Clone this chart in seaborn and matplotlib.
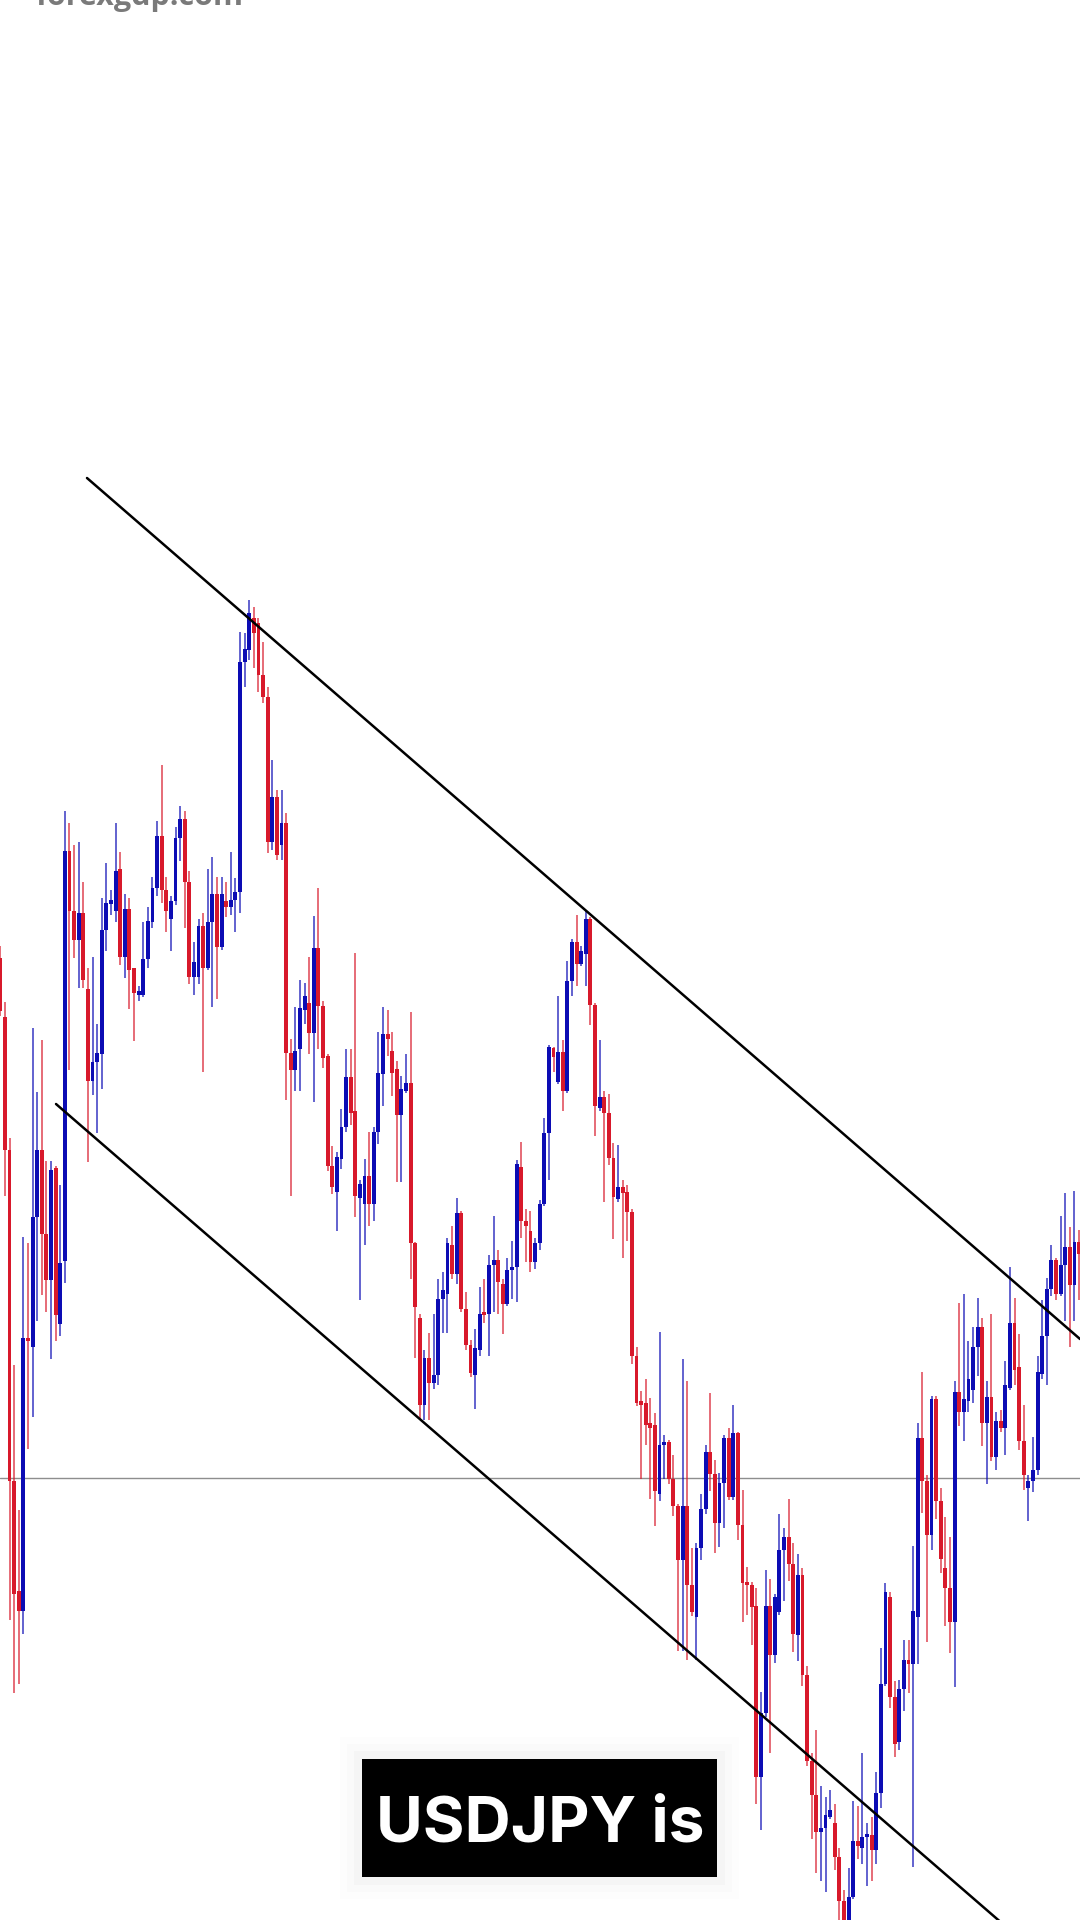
import numpy as np
import pandas as pd
import matplotlib
matplotlib.use("Agg")
import matplotlib.pyplot as plt
import seaborn as sns
from matplotlib.patches import Rectangle

# ---- OHLC values (arbitrary price units, 1 unit = 1 px) ----
open_ = [1042, 983, 850, 519, 409, 389, 662, 653, 783, 850, 766, 720, 832, 676, 739, 1149, 1089, 1060, 1087, 1011,
         919, 938, 946, 1070, 1096, 1089, 1131, 1043, 1091, 1032, 1005, 1005, 1041, 1078, 1112, 1164, 1110, 1081, 1099, 1162,
         1181, 1118, 1023, 1023, 1074, 1032, 1078, 1106, 1053, 1099, 1093, 1100, 1108, 1338, 1350, 1382, 1377, 1325, 1303, 1158,
         1203, 1155, 1177, 947, 930, 951, 990, 997, 967, 1052, 994, 944, 834, 808, 841, 873, 923, 889, 802, 796,
         824, 796, 868, 926, 966, 949, 931, 885, 909, 917, 757, 682, 595, 642, 617, 625, 701, 706, 755, 726,
         787, 691, 655, 625, 650, 688, 686, 735, 740, 716, 696, 730, 733, 833, 779, 769, 738, 757, 796, 867,
         952, 918, 948, 909, 1019, 1058, 1036, 1046, 1081, 995, 892, 903, 887, 842, 801, 813, 808, 788, 644, 599,
         597, 577, 575, 506, 555, 558, 521, 494, 440, 494, 415, 383, 452, 491, 548, 526, 477, 517, 562, 503,
         567, 475, 417, 415, 394, 223, 287, 394, 345, 388, 450, 463, 436, 365, 425, 325, 239, 205, 168, 172,
         183, 177, 143, 99, 65, 103, 159, 152, 163, 165, 150, 207, 316, 403, 303, 258, 311, 340, 336, 383,
         562, 519, 465, 601, 499, 432, 412, 378, 608, 588, 599, 610, 653, 673, 577, 603, 543, 579, 572, 612,
         677, 633, 559, 512, 519, 530, 626, 664, 711, 740, 706, 735, 753, 715, 758]
high = [1054, 998, 862, 635, 490, 763, 757, 972, 908, 960, 839, 839, 834, 815, 1189, 1177, 1155, 1158, 1118, 1032,
        1043, 976, 1102, 1137, 1110, 1177, 1148, 1106, 1102, 1032, 1014, 1078, 1093, 1123, 1179, 1235, 1123, 1104, 1173, 1194,
        1189, 1129, 1058, 1081, 1087, 1131, 1143, 1123, 1123, 1118, 1148, 1122, 1368, 1367, 1400, 1393, 1382, 1358, 1313, 1240,
        1210, 1210, 1187, 961, 993, 1020, 1017, 1043, 1084, 1112, 999, 946, 854, 848, 891, 951, 951, 1047, 820, 841,
        868, 873, 968, 993, 990, 968, 939, 924, 946, 988, 758, 686, 650, 667, 686, 721, 728, 762, 774, 802,
        789, 708, 660, 671, 713, 721, 745, 784, 750, 721, 742, 759, 840, 858, 791, 789, 762, 800, 882, 955,
        953, 1004, 960, 1039, 1061, 1085, 1054, 1090, 1083, 997, 960, 909, 906, 857, 855, 820, 815, 791, 653, 609,
        621, 602, 587, 668, 565, 560, 545, 496, 641, 619, 452, 457, 506, 555, 607, 540, 527, 565, 572, 595,
        568, 510, 433, 418, 412, 308, 430, 421, 406, 486, 472, 501, 457, 446, 432, 334, 247, 270, 214, 203,
        210, 196, 152, 110, 132, 199, 194, 247, 177, 183, 228, 352, 417, 408, 319, 320, 360, 360, 454, 577,
        628, 525, 604, 604, 512, 483, 463, 619, 697, 706, 659, 673, 702, 682, 619, 686, 588, 590, 639, 733,
        702, 666, 595, 525, 563, 644, 700, 722, 755, 742, 784, 807, 773, 809, 770]
low = [984, 804, 380, 307, 316, 366, 551, 583, 679, 705, 688, 641, 659, 664, 717, 930, 1042, 1012, 1012, 838,
       905, 867, 911, 1049, 1085, 1078, 1035, 1022, 991, 959, 999, 1003, 1032, 1072, 1104, 1097, 1068, 1049, 1095, 1139,
       1072, 1016, 1005, 1016, 928, 1030, 993, 1001, 1050, 1083, 1085, 1068, 1087, 1313, 1340, 1332, 1308, 1297, 1147, 1150,
       1140, 1140, 900, 804, 909, 909, 976, 946, 898, 951, 932, 829, 806, 769, 831, 868, 875, 783, 700, 755,
       774, 779, 856, 894, 944, 904, 818, 818, 907, 721, 642, 580, 580, 580, 611, 615, 667, 667, 721, 716,
       688, 650, 623, 591, 644, 677, 644, 688, 686, 666, 694, 701, 698, 762, 738, 728, 731, 750, 794, 820,
       928, 916, 889, 907, 1004, 1014, 1034, 1014, 975, 864, 889, 798, 835, 761, 798, 742, 759, 636, 594, 521,
       555, 501, 474, 499, 521, 516, 484, 349, 349, 340, 384, 340, 440, 486, 509, 447, 453, 472, 500, 500,
       460, 378, 385, 355, 196, 170, 283, 247, 337, 385, 399, 419, 348, 339, 314, 234, 161, 127, 119, 108,
       181, 130, 75, 50, 55, 101, 141, 136, 114, 119, 136, 192, 314, 292, 243, 250, 289, 307, 133, 336,
       487, 358, 450, 481, 427, 374, 347, 313, 574, 559, 588, 597, 624, 554, 516, 539, 530, 568, 545, 610,
       615, 550, 510, 479, 508, 525, 621, 615, 704, 700, 704, 679, 653, 679, 700]
close = [989, 850, 519, 406, 389, 662, 659, 783, 850, 766, 720, 830, 685, 737, 1149, 1089, 1060, 1087, 1020, 919,
         938, 947, 1070, 1097, 1100, 1129, 1043, 1091, 1030, 1007, 1009, 1041, 1079, 1112, 1164, 1110, 1089, 1099, 1162, 1181,
         1118, 1023, 1038, 1074, 1032, 1078, 1106, 1053, 1106, 1093, 1100, 1108, 1338, 1351, 1387, 1367, 1325, 1303, 1158, 1203,
         1145, 1177, 947, 930, 949, 992, 1004, 967, 1052, 994, 942, 834, 813, 843, 873, 923, 887, 804, 816, 824,
         796, 868, 927, 966, 961, 927, 885, 911, 917, 757, 693, 595, 642, 617, 625, 701, 710, 757, 726, 787,
         691, 655, 627, 652, 686, 685, 735, 740, 718, 696, 730, 733, 836, 779, 774, 738, 757, 796, 867, 953,
         943, 948, 909, 1019, 1058, 1036, 1049, 1081, 995, 894, 903, 887, 842, 803, 813, 807, 788, 644, 597, 595,
         575, 572, 509, 555, 558, 521, 494, 440, 494, 415, 388, 452, 491, 548, 526, 477, 517, 562, 503, 567,
         475, 417, 415, 393, 223, 287, 394, 345, 403, 450, 463, 436, 366, 425, 325, 239, 205, 168, 172, 185,
         190, 143, 99, 65, 103, 159, 154, 163, 165, 150, 207, 316, 408, 303, 256, 311, 340, 336, 389, 562,
         519, 465, 601, 499, 441, 412, 378, 608, 588, 601, 621, 653, 673, 577, 603, 543, 579, 572, 615, 677,
         630, 559, 525, 519, 530, 628, 664, 711, 740, 706, 735, 753, 715, 758, 746]

# horizontal reference level and the two channel trendlines (index, price)
h_level = 522
upper_x = [18.80, 234.2]
upper_y = [1522, 661]
lower_x = [12.08, 223.36]
lower_y = [896, 52.5]

caption = "USDJPY is"
watermark = "forexgdp.com"

# ---- styling ----
sns.set_theme(style="white")
plt.rcParams['font.family'] = ['Inter', 'DejaVu Sans']

BLUE = "#0c0cb4"
RED = "#d8192b"

df = pd.DataFrame({"open": open_, "high": high, "low": low, "close": close})
df["idx"] = np.arange(len(df))
df["up"] = df["close"] >= df["open"]
colors = np.where(df["up"], BLUE, RED)

fig = plt.figure(figsize=(10.8, 19.2), dpi=100, facecolor="white")
ax = fig.add_axes([0, 0, 1, 1])
ax.set_facecolor("white")

# horizontal level
ax.axhline(h_level, color="#8e8e8e", lw=1.0, zorder=1)

# wicks
ax.vlines(df["idx"], df["low"], df["high"], colors=colors, lw=1.2, alpha=0.75, zorder=2)
# bodies
body_bottom = np.minimum(df["open"], df["close"])
body_h = np.maximum(np.abs(df["close"] - df["open"]), 3)
ax.bar(df["idx"], body_h, bottom=body_bottom, width=0.84, color=colors, linewidth=0, zorder=3)

# trendlines
tl = pd.DataFrame({
    "x": upper_x + lower_x,
    "y": upper_y + lower_y,
    "line": ["upper"] * 2 + ["lower"] * 2,
})
sns.lineplot(data=tl, x="x", y="y", units="line", estimator=None, color="black",
             lw=1.8, ax=ax, legend=False, zorder=4)
ax.set_xlim(-0.07, 234.2)
ax.set_ylim(80, 2000)
ax.axis("off")

# watermark (mostly cropped at the top edge, as in the source)
fig.text(35 / 1080, 1 - 5 / 1920, watermark, ha="left", va="baseline",
         fontsize=22, fontweight="bold", color="#7a7a7a", family=["Open Sans", "DejaVu Sans"])

# caption box with a very soft glow
bx0, by0, bx1, by1 = 362, 1759, 717, 1877
for pad, a in [(22, 0.008), (15, 0.012), (8, 0.018)]:
    fig.patches.append(Rectangle(((bx0 - pad) / 1080, 1 - (by1 + pad) / 1920),
                                 (bx1 - bx0 + 2 * pad) / 1080, (by1 - by0 + 2 * pad) / 1920,
                                 transform=fig.transFigure, facecolor="black", alpha=a,
                                 edgecolor="none", zorder=5))
fig.patches.append(Rectangle((bx0 / 1080, 1 - by1 / 1920), (bx1 - bx0) / 1080, (by1 - by0) / 1920,
                             transform=fig.transFigure, facecolor="black", edgecolor="none", zorder=6))
fig.text(540 / 1080, 1 - 1841 / 1920, caption, ha="center", va="baseline",
         fontsize=46, fontweight="bold", color="white", zorder=7)

fig.savefig("out.png", dpi=100, facecolor="white")
